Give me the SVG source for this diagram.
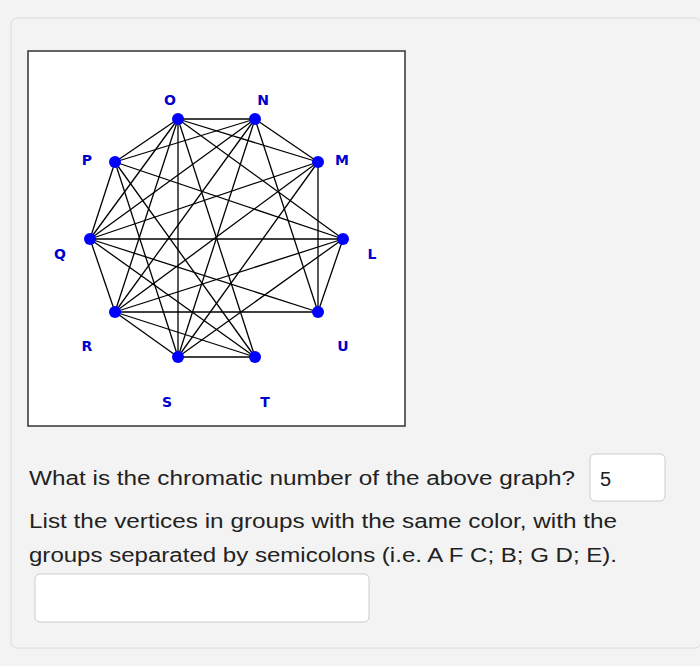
<svg xmlns="http://www.w3.org/2000/svg" width="700" height="666" viewBox="0 0 700 666">
<style>
.e{stroke:#000;stroke-width:1.3}
.n{fill:#0000ff}
.l{font-family:"DejaVu Sans",sans-serif;font-weight:bold;font-size:14px;fill:#0000cc;text-anchor:middle}
.t{font-family:"Liberation Sans",Arial,sans-serif;font-size:20px;fill:#222}
</style>
<rect x="0" y="0" width="700" height="666" fill="#f3f3f3"/>
<rect x="11" y="18" width="690" height="630" rx="6" fill="#f3f3f3" stroke="#dcdcdc"/>
<rect x="28" y="51" width="377" height="375" fill="#fff" stroke="#333" stroke-width="1.5"/>
<g id="connectors">
<line class="e" x1="178" y1="119" x2="255" y2="119"/>
<line class="e" x1="178" y1="119" x2="115" y2="162"/>
<line class="e" x1="178" y1="119" x2="90" y2="239"/>
<line class="e" x1="178" y1="119" x2="115" y2="312"/>
<line class="e" x1="178" y1="119" x2="178" y2="357"/>
<line class="e" x1="178" y1="119" x2="255" y2="357"/>
<line class="e" x1="178" y1="119" x2="318" y2="162"/>
<line class="e" x1="178" y1="119" x2="343" y2="239"/>
<line class="e" x1="255" y1="119" x2="115" y2="162"/>
<line class="e" x1="255" y1="119" x2="90" y2="239"/>
<line class="e" x1="255" y1="119" x2="115" y2="312"/>
<line class="e" x1="255" y1="119" x2="178" y2="357"/>
<line class="e" x1="255" y1="119" x2="318" y2="162"/>
<line class="e" x1="255" y1="119" x2="318" y2="312"/>
<line class="e" x1="318" y1="162" x2="90" y2="239"/>
<line class="e" x1="318" y1="162" x2="115" y2="312"/>
<line class="e" x1="318" y1="162" x2="178" y2="357"/>
<line class="e" x1="318" y1="162" x2="318" y2="312"/>
<line class="e" x1="343" y1="239" x2="90" y2="239"/>
<line class="e" x1="343" y1="239" x2="115" y2="162"/>
<line class="e" x1="343" y1="239" x2="115" y2="312"/>
<line class="e" x1="343" y1="239" x2="178" y2="357"/>
<line class="e" x1="343" y1="239" x2="318" y2="312"/>
<line class="e" x1="318" y1="312" x2="115" y2="312"/>
<line class="e" x1="318" y1="312" x2="90" y2="239"/>
<line class="e" x1="255" y1="357" x2="178" y2="357"/>
<line class="e" x1="255" y1="357" x2="115" y2="162"/>
<line class="e" x1="255" y1="357" x2="90" y2="239"/>
<line class="e" x1="255" y1="357" x2="115" y2="312"/>
<line class="e" x1="178" y1="357" x2="115" y2="162"/>
<line class="e" x1="178" y1="357" x2="115" y2="312"/>
<line class="e" x1="115" y1="312" x2="90" y2="239"/>
<line class="e" x1="90" y1="239" x2="115" y2="162"/>
</g>
<g id="O"><circle class="n" cx="178" cy="119" r="6"/><text class="l" x="170" y="105">O</text></g>
<g id="N"><circle class="n" cx="255" cy="119" r="6"/><text class="l" x="263" y="105">N</text></g>
<g id="M"><circle class="n" cx="318" cy="162" r="6"/><text class="l" x="342" y="165">M</text></g>
<g id="L"><circle class="n" cx="343" cy="239" r="6"/><text class="l" x="372" y="259">L</text></g>
<g id="U"><circle class="n" cx="318" cy="312" r="6"/><text class="l" x="343" y="351">U</text></g>
<g id="T"><circle class="n" cx="255" cy="357" r="6"/><text class="l" x="265" y="407">T</text></g>
<g id="S"><circle class="n" cx="178" cy="357" r="6"/><text class="l" x="167" y="407">S</text></g>
<g id="R"><circle class="n" cx="115" cy="312" r="6"/><text class="l" x="87" y="351">R</text></g>
<g id="Q"><circle class="n" cx="90" cy="239" r="6"/><text class="l" x="60" y="259">Q</text></g>
<g id="P"><circle class="n" cx="115" cy="162" r="6"/><text class="l" x="87" y="165">P</text></g>
<text class="t" x="29" y="485" textLength="546" lengthAdjust="spacingAndGlyphs">What is the chromatic number of the above graph?</text>
<rect x="590" y="454" width="75" height="47" rx="5" fill="#fff" stroke="#ccc"/>
<text class="t" x="600" y="486">5</text>
<text class="t" x="29" y="528" textLength="588" lengthAdjust="spacingAndGlyphs">List the vertices in groups with the same color, with the</text>
<text class="t" x="29" y="562" textLength="588" lengthAdjust="spacingAndGlyphs">groups separated by semicolons (i.e. A F C; B; G D; E).</text>
<rect x="35" y="574" width="334" height="48" rx="5" fill="#fff" stroke="#ccc"/>
</svg>
